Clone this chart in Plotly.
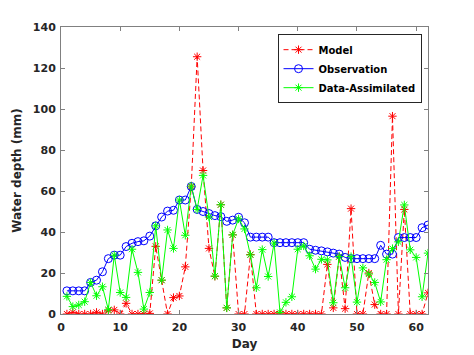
import plotly.graph_objects as go

days = list(range(1, 63))

model = [0, 0.8, 0, 0, 0, 0.8, 0, 1.6, 2, 0,
         5.2, 0, 0, 0, 0.3, 33, 16.5, 0, 8, 8.8,
         23, 62, 125.5, 70, 32, 18.4, 53.3, 3, 38.6, 0,
         0, 29, 0, 0, 0, 0, 0, 0, 0, 0,
         0, 0, 0, 0, 24.2, 3, 28, 2.6, 51.4, 0,
         0, 20, 4.6, 0, 0, 96.5, 0, 51, 0, 0,
         0, 10.3]

observation = [11.3, 11.3, 11.3, 11.3, 15.4, 16.5, 20.6, 27, 28.7, 28.7,
               32.9, 34.5, 35.3, 35.7, 38, 43, 47.3, 50.2, 50.6, 55.6,
               55.6, 62.2, 51, 50, 49, 48, 47.5, 45.2, 45.8, 47.2,
               44.5, 37.5, 37.5, 37.5, 37.5, 34.8, 34.8, 34.8, 34.8, 34.8,
               34.8, 31.6, 31.1, 30.8, 30.3, 29.7, 29.2, 27.6, 27, 27,
               27, 27, 27, 33.5, 29.2, 29.2, 37.3, 37.3, 37.3, 37.3,
               42.1, 43.4]

assimilated = [8.6, 3.6, 4.4, 6, 15.4, 8.9, 13.3, 2.1, 28.7, 10.5,
               8.1, 31.6, 20.3, 2.4, 10.5, 43, 16.5, 41, 32, 55.6,
               38.4, 62.4, 51, 67.6, 47.3, 18.5, 53.3, 3, 38.6, 46.4,
               41.5, 28.8, 12.8, 31.4, 18.3, 34.6, 0.8, 5.7, 8.4, 31.6,
               33.2, 28.4, 21.9, 26.7, 26.4, 5.5, 28, 12.8, 28, 5.8,
               22.5, 19.5, 15.4, 5.9, 26.5, 31.9, 35.2, 53.2, 31.3, 27.6,
               8.4, 29.7]

x_ticks = [0, 10, 20, 30, 40, 50, 60]
y_ticks = [0, 20, 40, 60, 80, 100, 120, 140]

FONT = "DejaVu Sans"
TXT = "#262626"
AX = "#808080"

fig = go.Figure()
fig.add_trace(go.Scatter(
    x=days, y=model, name="Model", mode="lines+markers",
    line=dict(color="#ff0000", width=1, dash="5px,3px"),
    marker=dict(symbol="asterisk-open", size=7, color="#ff0000",
                line=dict(color="#ff0000", width=1)),
))
fig.add_trace(go.Scatter(
    x=days, y=observation, name="Observation", mode="lines+markers",
    line=dict(color="#0000ff", width=1),
    marker=dict(symbol="circle-open", size=8, color="#0000ff",
                line=dict(color="#0000ff", width=1)),
))
fig.add_trace(go.Scatter(
    x=days, y=assimilated, name="Data-Assimilated", mode="lines+markers",
    line=dict(color="#00ff00", width=1),
    marker=dict(symbol="asterisk-open", size=7, color="#00ff00",
                line=dict(color="#00ff00", width=1)),
))

fig.update_layout(
    width=466, height=347,
    margin=dict(l=53, r=46, t=19, b=41, pad=0),
    paper_bgcolor="white", plot_bgcolor="white",
    font=dict(family=FONT, size=11, color=TXT, weight="bold"),
    showlegend=True,
    legend=dict(
        x=0.59, y=0.975, xanchor="left", yanchor="top",
        bgcolor="white", bordercolor="#262626", borderwidth=1,
        font=dict(family=FONT, size=10, color="black", weight="bold"),
        tracegroupgap=0, itemwidth=30,
    ),
    xaxis=dict(
        range=[0, 62], tickvals=x_ticks, ticktext=[str(v) for v in x_ticks],
        showline=True, linecolor=AX, linewidth=1, mirror="ticks",
        ticks="inside", ticklen=4, tickcolor=AX, showgrid=False, zeroline=False,
        automargin=False, ticklabelstandoff=3,
        title=dict(text="Day", font=dict(family=FONT, size=12, color=TXT, weight="bold"),
                   standoff=6),
        tickfont=dict(family=FONT, size=11, color=TXT, weight="bold"),
    ),
    yaxis=dict(
        range=[0, 140], tickvals=y_ticks, ticktext=[str(v) for v in y_ticks],
        showline=True, linecolor=AX, linewidth=1, mirror="ticks",
        ticks="inside", ticklen=4, tickcolor=AX, showgrid=False, zeroline=False,
        automargin=False, ticklabelstandoff=2,
        title=dict(text="Water depth (mm)", font=dict(family=FONT, size=12, color=TXT, weight="bold"),
                   standoff=8),
        tickfont=dict(family=FONT, size=11, color=TXT, weight="bold"),
    ),
)

fig.write_html("out.html")
